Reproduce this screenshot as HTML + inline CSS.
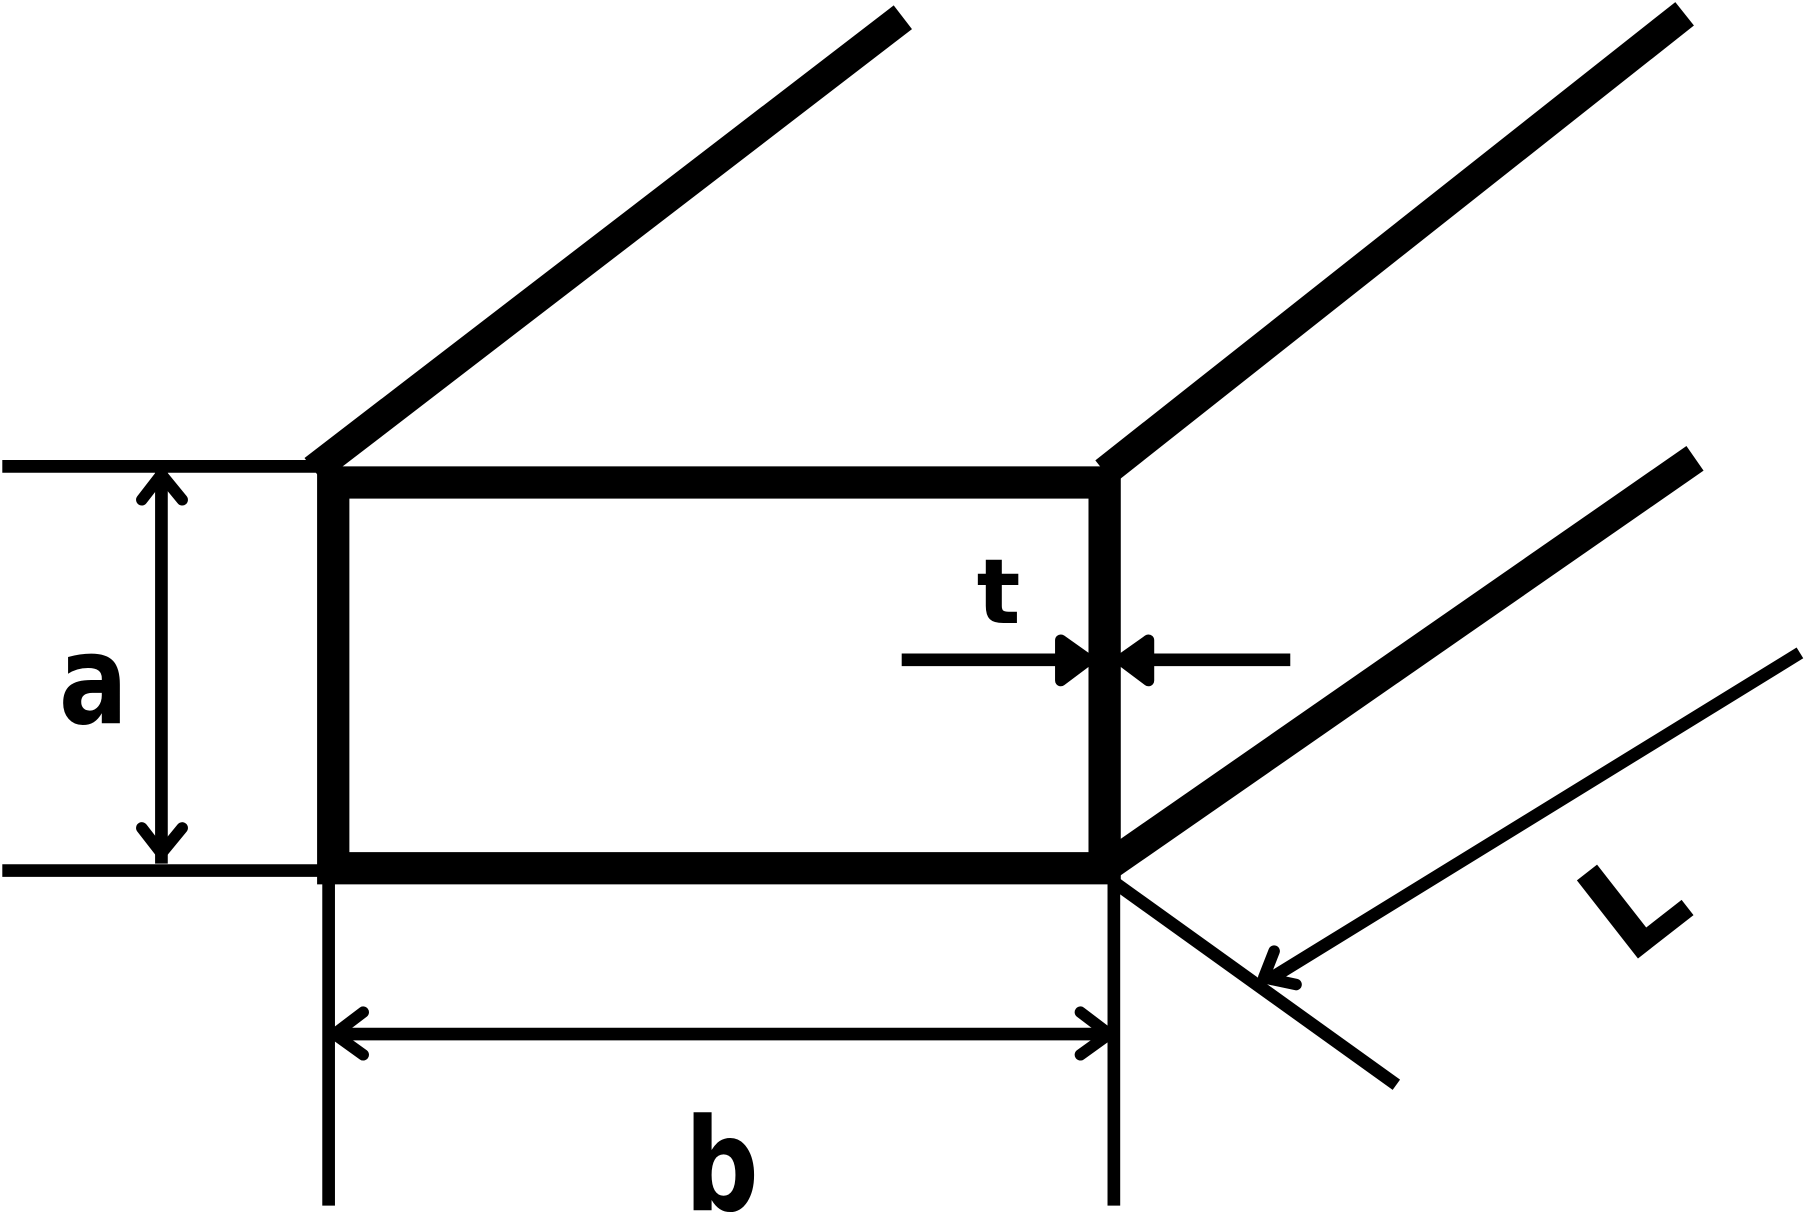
<!DOCTYPE html>
<html><head><meta charset="utf-8"><style>
html,body{margin:0;padding:0;background:#fff;width:1808px;height:1216px;overflow:hidden}
svg{display:block}
text{font-family:"DejaVu Sans","Liberation Sans",sans-serif;font-weight:bold;fill:#000}
</style></head><body>
<svg width="1808" height="1216" viewBox="0 0 1568 1056" preserveAspectRatio="none" xmlns="http://www.w3.org/2000/svg">
<g stroke="#000" fill="none" stroke-linecap="butt">
<line x1="272" y1="408" x2="783" y2="15" stroke-width="26"/>
<line x1="958" y1="410" x2="1461" y2="12" stroke-width="26"/>
<line x1="958" y1="754" x2="1470" y2="398" stroke-width="26"/>
<rect x="289" y="419" width="669" height="335" stroke-width="28"/>
<g stroke-width="11">
<line x1="2" y1="405" x2="276" y2="405"/>
<line x1="2" y1="756" x2="276" y2="756"/>
<line x1="140" y1="410" x2="140" y2="750"/>
<line x1="285" y1="764" x2="285" y2="1047"/>
<line x1="966" y1="764" x2="966" y2="1047"/>
<line x1="290" y1="898" x2="960" y2="898"/>
<line x1="782" y1="573" x2="1119" y2="573"/>
<line x1="966" y1="766" x2="1211" y2="942"/>
<line x1="1561" y1="567" x2="1100" y2="851"/>
</g>
<g stroke-width="10" stroke-linecap="round" stroke-linejoin="round">
<polyline points="123,434 140,412 158,434"/>
<polyline points="123,719 140,741 158,719"/>
<polyline points="315,879 290,898 315,916"/>
<polyline points="937,879 962,898 937,916"/>
<polyline points="1105,826 1096,849 1124,855"/>
</g>
<g stroke-width="10" stroke-linejoin="round" fill="#000">
<polygon points="920,556 944,573 920,591"/>
<polygon points="996,556 972,573 996,591"/>
</g>
</g>
<text x="51" y="628" font-size="108" textLength="60" lengthAdjust="spacingAndGlyphs">a</text>
<text x="594" y="1051" font-size="112" textLength="64" lengthAdjust="spacingAndGlyphs">b</text>
<text x="847" y="541" font-size="78" textLength="38" lengthAdjust="spacingAndGlyphs">t</text>
<text x="0" y="0" font-size="118" transform="translate(1412,839) rotate(-38)">L</text>
</svg>
</body></html>
